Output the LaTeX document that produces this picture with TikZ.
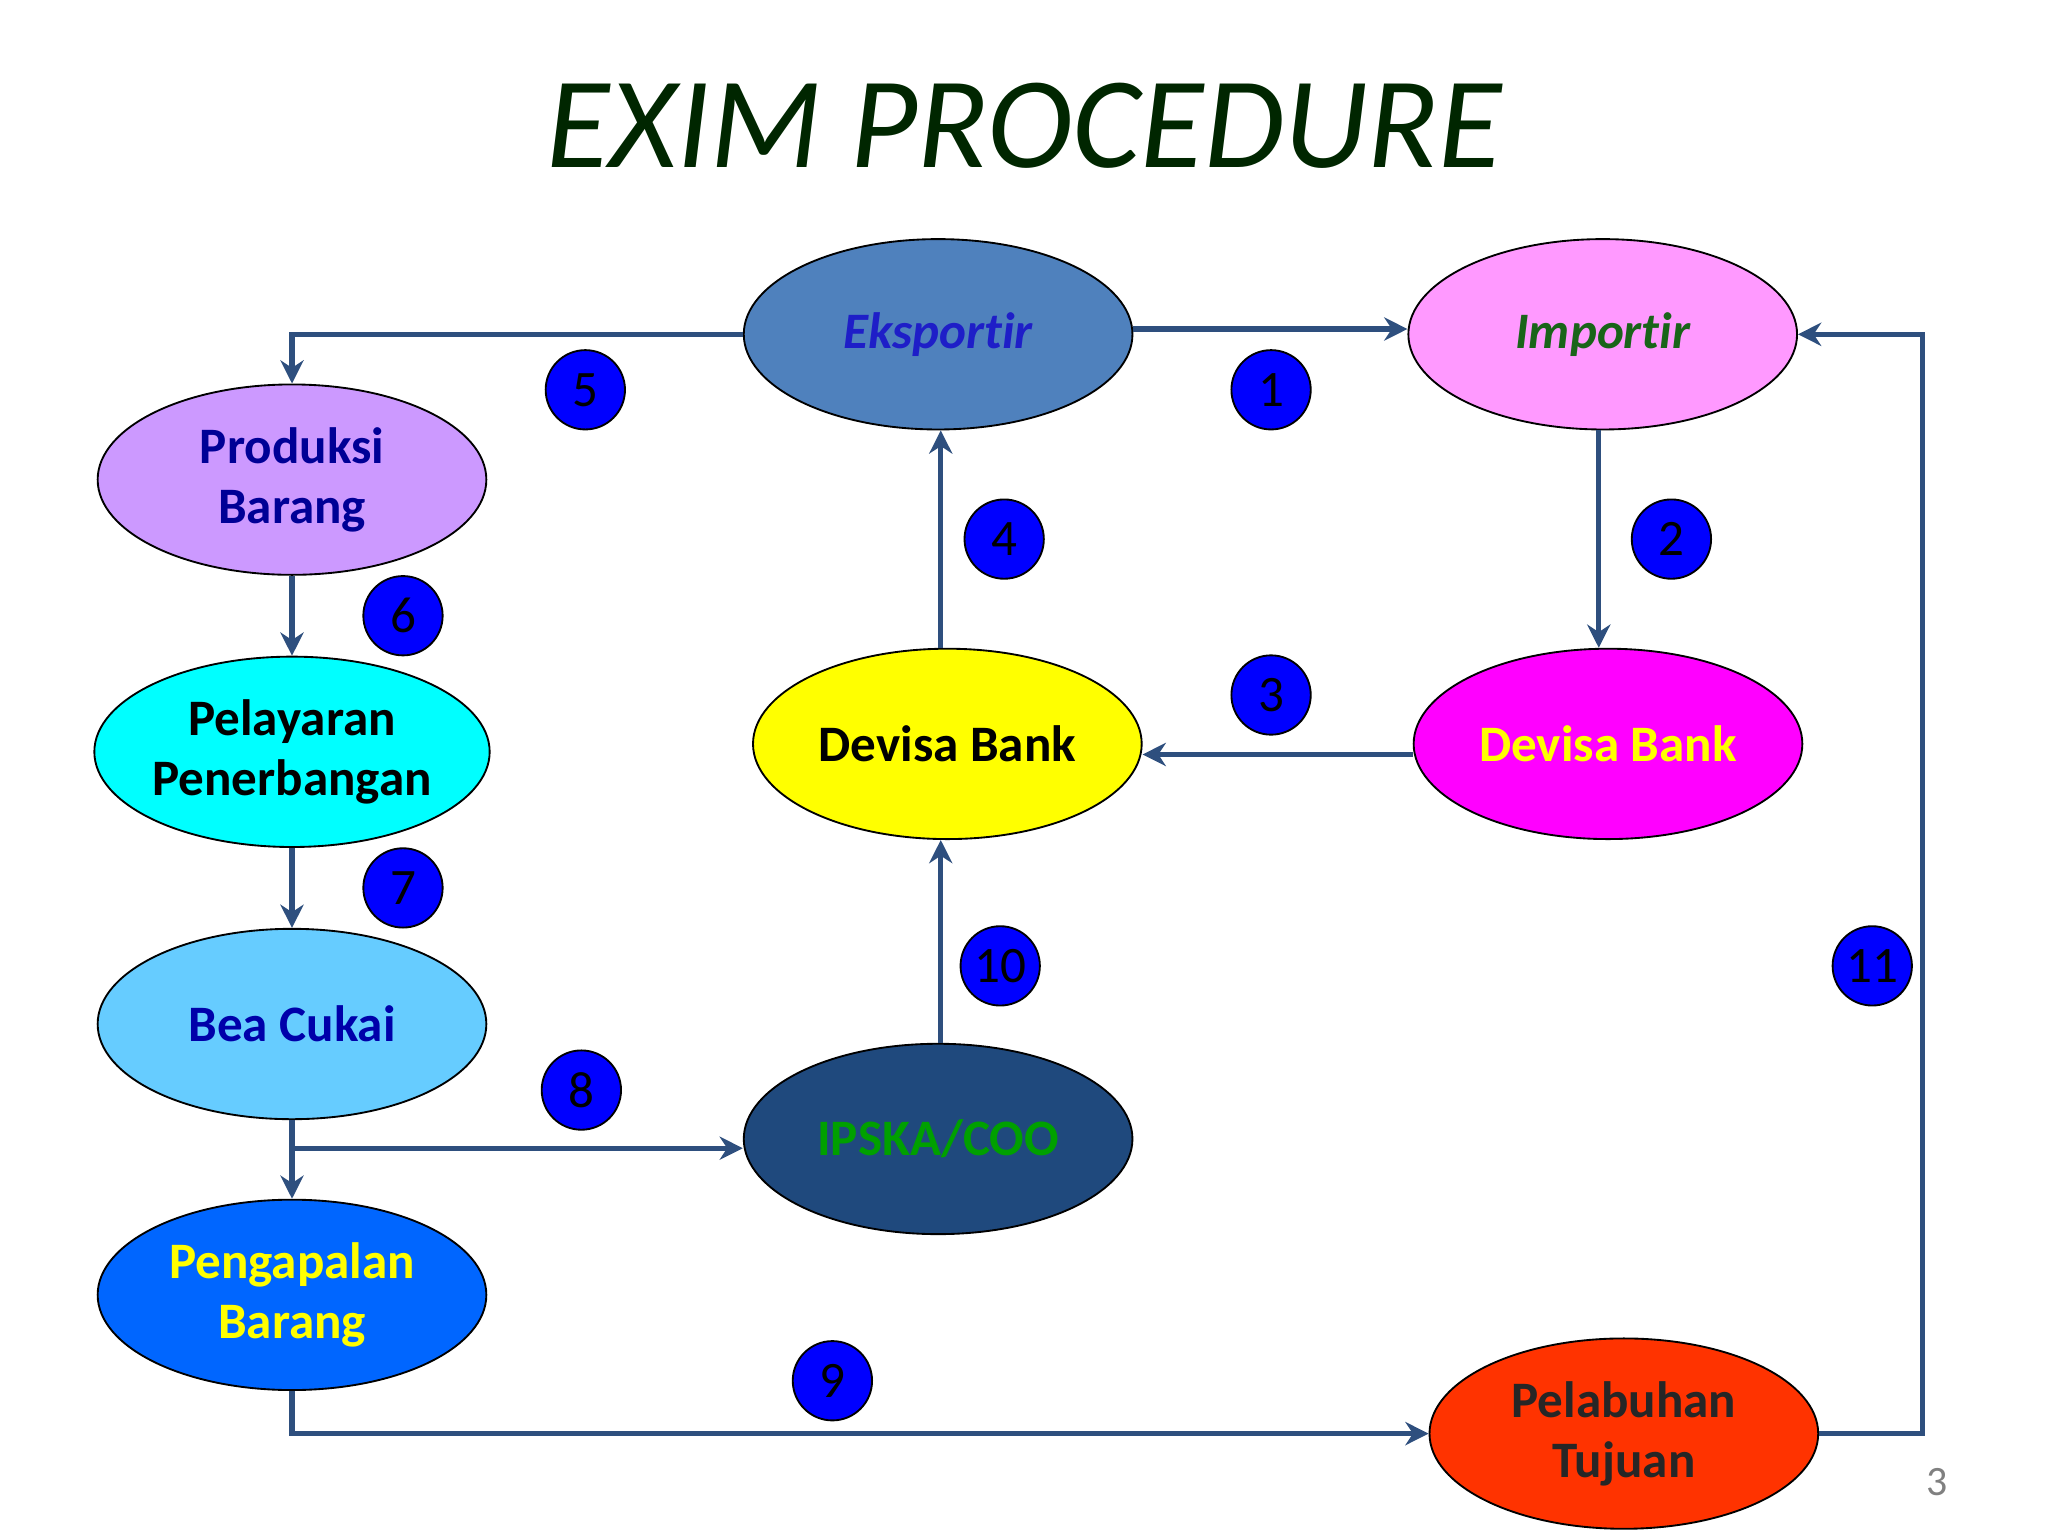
\documentclass[tikz,border=0pt]{standalone}
\usepackage{fontspec}
\setmainfont{Carlito}
\usetikzlibrary{arrows.meta,shapes.geometric}
\definecolor{linecol}{HTML}{2E4F7E}
\definecolor{cyanfill}{HTML}{00FFFF}
\definecolor{magfill}{HTML}{FF00FF}
\definecolor{yelfill}{HTML}{FFFF00}
\tikzset{
  proc/.style={ellipse, draw=black, thin, inner sep=0pt, minimum width=2.94cm, minimum height=1.44cm,
    align=center, font=\fontsize{11}{13}\selectfont\bfseries},
  num/.style={circle, draw=black, fill=blue, minimum size=0.6cm, inner sep=0pt,
    font=\fontsize{11}{13}\selectfont},
  flow/.style={draw=linecol, line width=1.1pt, -{Stealth[length=5pt,width=5pt]}}
}
\begin{document}
\begin{tikzpicture}[x=0.01cm,y=-0.01cm]
\useasboundingbox (0,0) rectangle (1550,1163);

\node[font=\fontsize{28}{32}\selectfont\itshape, text=black!85!green] (title) at (775,95) {EXIM PROCEDURE};

\node[proc, fill={rgb,255:red,79;green,129;blue,189}, text={rgb,255:red,30;green,30;blue,200}, font=\fontsize{11}{13}\selectfont\bfseries\itshape] (eks) at (710,253) {Eksport\kern0pt ir};
\node[proc, fill={rgb,255:red,255;green,153;blue,255}, text={rgb,255:red,25;green,100;blue,25}, font=\fontsize{11}{13}\selectfont\bfseries\itshape] (imp) at (1213,253) {Import\kern0pt ir};
\node[proc, fill={rgb,255:red,204;green,153;blue,255}, text={rgb,255:red,0;green,0;blue,150}] (prod) at (221,363) {Produksi\\Barang};
\node[proc, fill=cyanfill, text=black] (pel) at (221,569) {Pelayaran\\Penerbangan};
\node[proc, fill={rgb,255:red,102;green,204;blue,255}, text={rgb,255:red,0;green,0;blue,170}] (bea) at (221,775) {Bea Cukai};
\node[proc, fill={rgb,255:red,0;green,102;blue,255}, text=yelfill] (peng) at (221,980) {Pengapalan\\Barang};
\node[proc, fill=yelfill, text=black] (devl) at (717,563) {Devisa Bank};
\node[proc, fill=magfill, text=yelfill] (devr) at (1217,563) {Devisa Bank};
\node[proc, fill={rgb,255:red,31;green,73;blue,125}, text={rgb,255:red,0;green,160;blue,0}] (ipska) at (710,862) {IPSKA/COO};
\node[proc, fill={rgb,255:red,255;green,51;blue,0}, text=black!85] (tuj) at (1229,1085) {Pelabuhan\\Tujuan};

\node[num] (n1) at (962,295) {1};
\node[num] (n2) at (1265,408) {2};
\node[num] (n3) at (962,526) {3};
\node[num] (n4) at (760,408) {4};
\node[num] (n5) at (443,295) {5};
\node[num] (n6) at (305,466) {6};
\node[num] (n7) at (305,672) {7};
\node[num] (n8) at (440,825) {8};
\node[num] (n9) at (630,1045) {9};
\node[num] (n10) at (757,731) {10};
\node[num] (n11) at (1417,731) {11};

\node[text=gray, font=\fontsize{9}{11}\selectfont] (page) at (1466,1122) {3};

\draw[flow] (eks.east |- 0,249) -- (imp.west |- 0,249);
\draw[flow] (eks.west) -- (prod.north |- eks.west) -- (prod.north);
\draw[flow] (1210,0 |- imp.south) -- (1210,0 |- devr.north);
\draw[flow] (devr.west |- 0,571) -- (devl.east |- 0,571);
\draw[flow] (712,0 |- devl.north) -- (712,0 |- eks.south);
\draw[flow] (prod.south) -- (pel.north);
\draw[flow] (pel.south) -- (bea.north);
\draw[flow] (bea.south) -- (peng.north);
\draw[flow] (bea.south |- 0,869) -- (ipska.west |- 0,869);
\draw[flow] (712,0 |- ipska.north) -- (712,0 |- devl.south);
\draw[flow] (peng.south) -- (peng.south |- tuj.west) -- (tuj.west);
\draw[flow] (tuj.east) -- (1455,1085) -- (1455,253) -- (imp.east);
\end{tikzpicture}
\end{document}
